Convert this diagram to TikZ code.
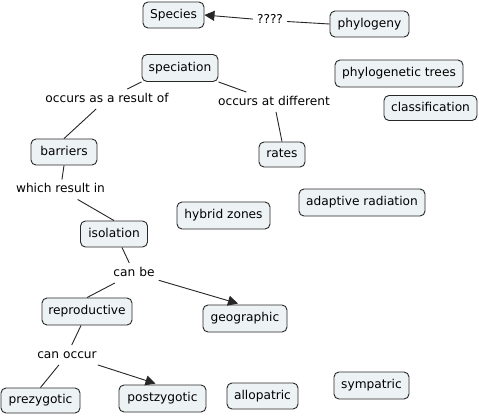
\documentclass[tikz,border=0pt]{standalone}
\usepackage{fontspec}
\setmainfont{DejaVu Sans}
\usetikzlibrary{arrows.meta,calc}
\definecolor{boxfill}{RGB}{237,243,245}
\definecolor{boxline}{RGB}{40,40,40}
\tikzset{
  concept/.style={draw=boxline, fill=boxfill, rounded corners=5pt, line width=0.9pt,
    inner xsep=2pt, inner ysep=0pt, text height=9pt, text depth=2.5pt,
    font=\fontsize{12.2}{14}\selectfont},
  linkword/.style={inner xsep=4pt, inner ysep=4pt, text height=9pt, text depth=2.5pt,
    font=\fontsize{12.2}{14}\selectfont},
  conn/.style={draw=black!85, line width=0.9pt},
  arr/.style={conn, -{Triangle[length=10pt,width=10pt]}},
}
\begin{document}
\begin{tikzpicture}[x=1pt,y=-1pt]
\useasboundingbox[fill=white] (0,0) rectangle (479,416);
% concepts
\node[concept, minimum width=61pt, minimum height=26pt] (species) at (173.5,15) {Species};
\node[concept, minimum width=79pt, minimum height=26pt] (phylogeny) at (369.5,24) {phylogeny};
\node[concept, minimum width=76pt, minimum height=27pt] (speciation) at (180,68) {speciation};
\node[concept, minimum width=128pt, minimum height=27pt] (trees) at (399,73.5) {phylogenetic trees};
\node[concept, minimum width=93pt, minimum height=25pt] (classification) at (430.5,108) {classification};
\node[concept, minimum width=66pt, minimum height=26pt] (barriers) at (64,152) {barriers};
\node[concept, minimum width=46pt, minimum height=25pt] (rates) at (282,154.5) {rates};
\node[concept, minimum width=93pt, minimum height=27pt] (hybrid) at (223.5,215.5) {hybrid zones};
\node[concept, minimum width=126pt, minimum height=27pt] (adaptive) at (362,202.5) {adaptive radiation};
\node[concept, minimum width=67pt, minimum height=26pt] (isolation) at (114,234) {isolation};
\node[concept, minimum width=90pt, minimum height=27pt] (reproductive) at (87,311.5) {reproductive};
\node[concept, minimum width=84pt, minimum height=27pt] (geographic) at (245,318.5) {geographic};
\node[concept, minimum width=79pt, minimum height=25pt] (prezygotic) at (40.5,400.5) {prezygotic};
\node[concept, minimum width=87pt, minimum height=27pt] (postzygotic) at (162.5,398.5) {postzygotic};
\node[concept, minimum width=71pt, minimum height=26pt] (allopatric) at (262.5,396) {allopatric};
\node[concept, minimum width=75pt, minimum height=27pt] (sympatric) at (371.5,385.5) {sympatric};
% linking words
\node[linkword] (q) at (270,20.5) {????};
\node[linkword] (resultof) at (107,99) {occurs as a result of};
\node[linkword] (different) at (274,102) {occurs at different};
\node[linkword] (resultin) at (60.5,189.5) {which result in};
\node[linkword] (canbe) at (134,273) {can be};
\node[linkword] (canoccur) at (67,355) {can occur};
% anchor points
\coordinate (isoS) at ($(isolation.south)+(8,0)$);
\coordinate (repS) at ($(reproductive.south)+(-6,0)$);
\coordinate (geoN) at ($(geographic.north)+(-7,-1)$);
\coordinate (postN) at ($(postzygotic.north)+(-7,-1)$);
% connectors
\draw[conn] (phylogeny.west) -- (q);
\draw[arr] (q) -- (species.east);
\draw[conn] (speciation.south west) -- (resultof);
\draw[conn] (resultof) -- (barriers.north);
\draw[conn] (speciation.south east) -- (different);
\draw[conn] (different) -- (rates.north);
\draw[conn] (barriers.south) -- (resultin);
\draw[conn] (resultin) -- (isolation.north);
\draw[conn] (isoS) -- (canbe);
\draw[conn] (canbe) -- (reproductive.north);
\draw[arr] (canbe) -- (geoN);
\draw[conn] (repS) -- (canoccur);
\draw[conn] (canoccur) -- (prezygotic.north);
\draw[arr] (canoccur) -- (postN);
\end{tikzpicture}
\end{document}
